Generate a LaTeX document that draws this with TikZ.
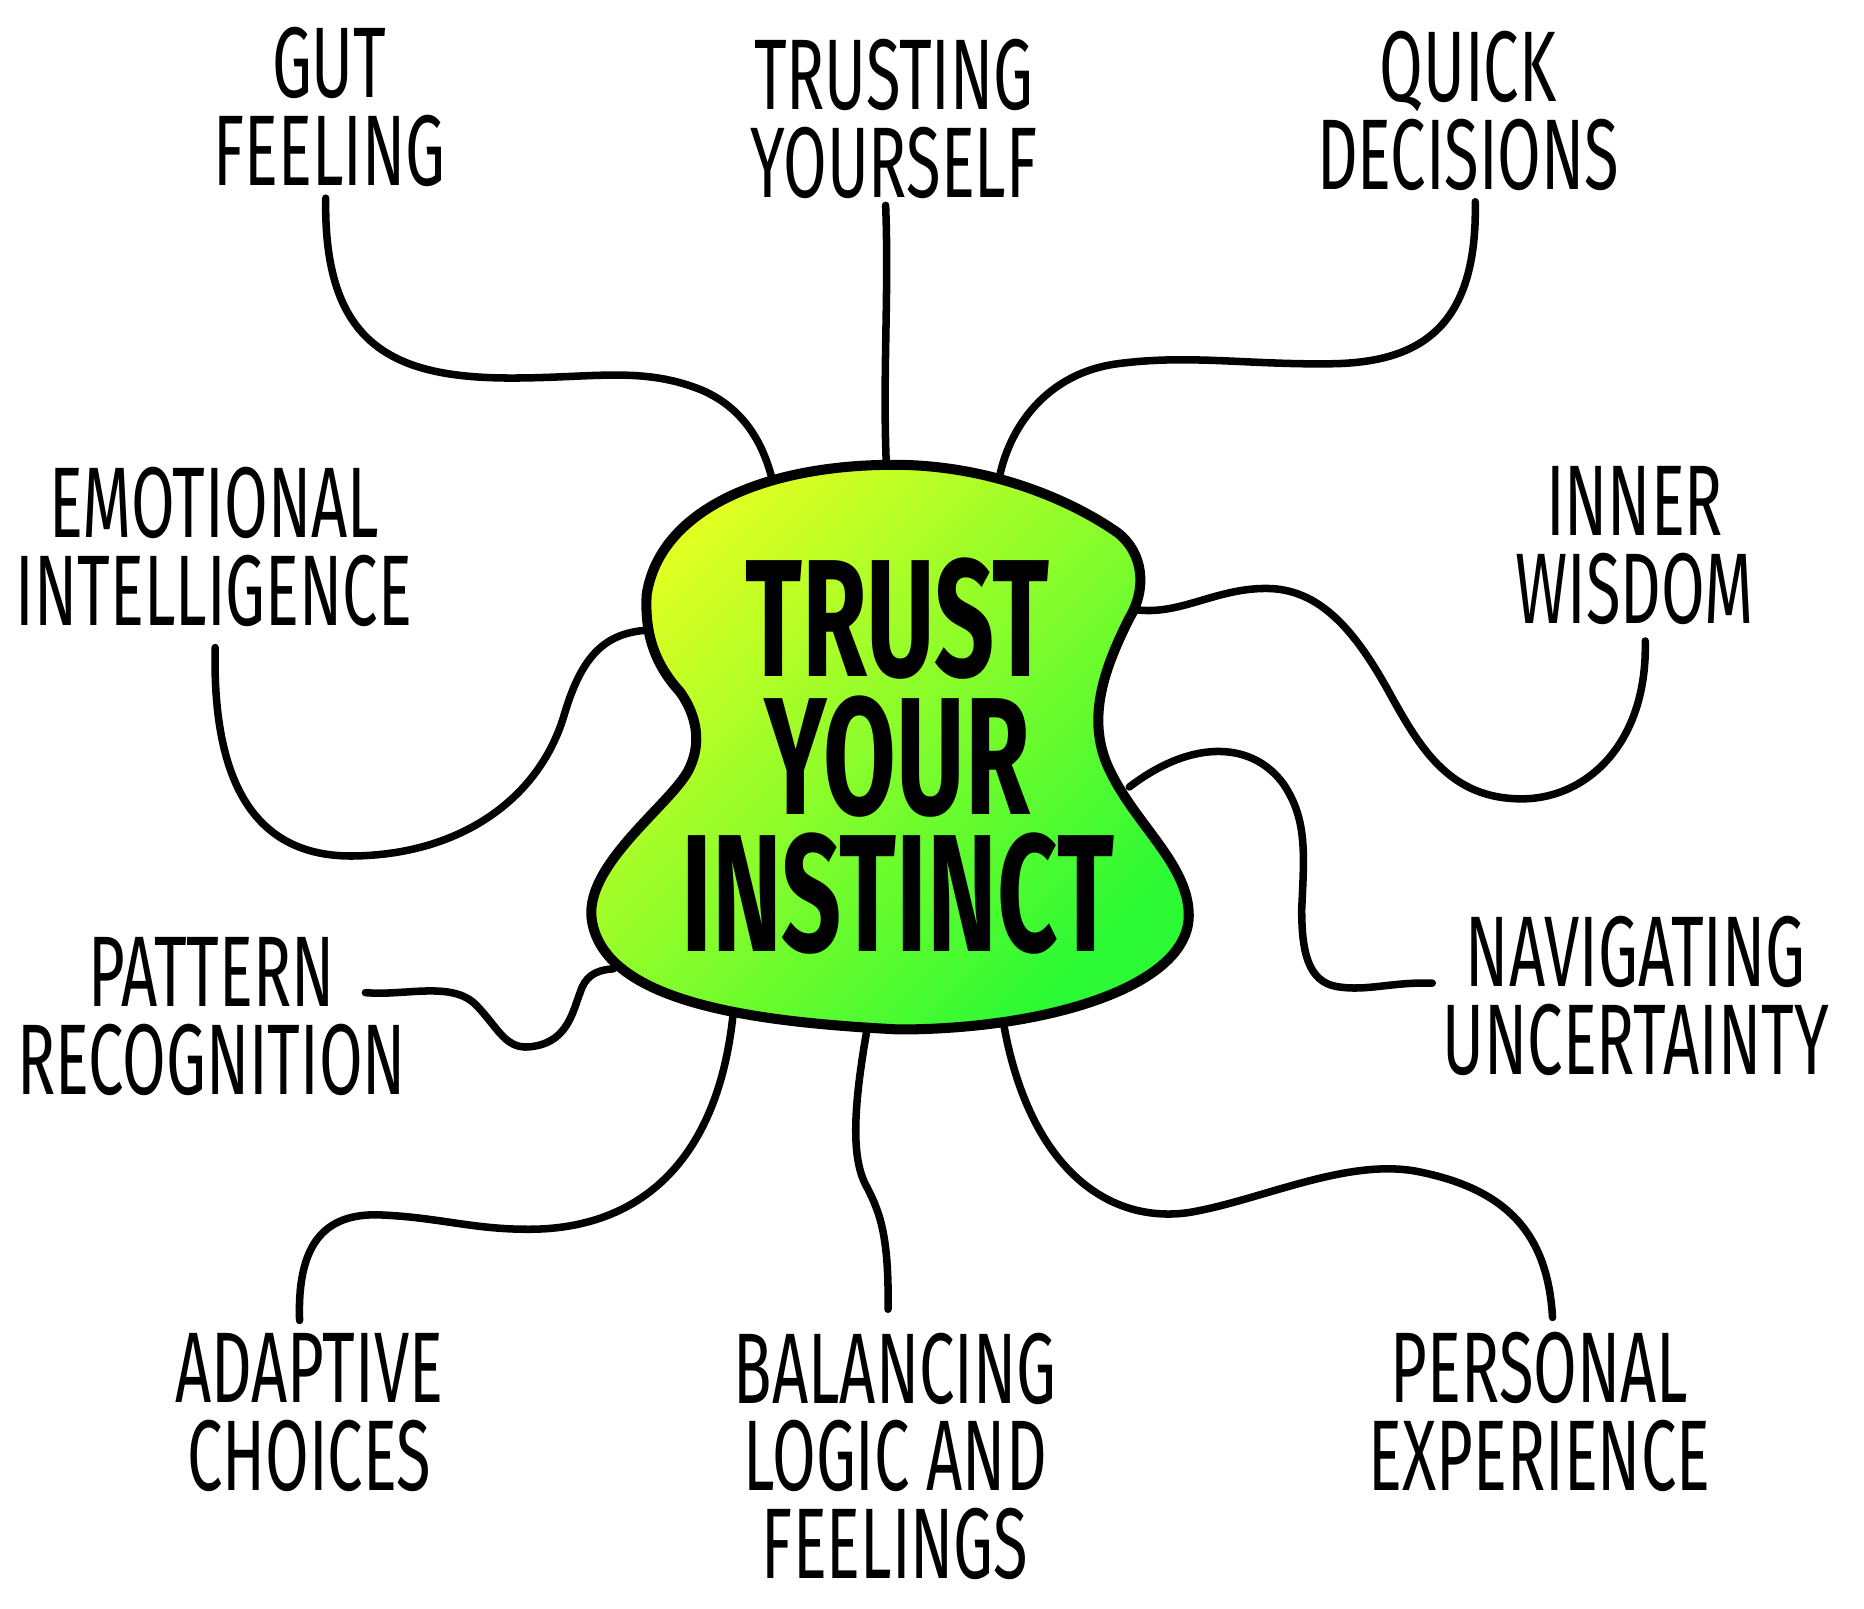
\documentclass[tikz,border=0pt]{standalone}
\usepackage{fontspec}
\newfontfamily\handfont[FakeStretch=0.63]{Fira Sans}
\definecolor{blobtop}{RGB}{226,255,34}
\definecolor{blobbot}{RGB}{44,250,52}
\tikzset{
  lbl/.style={font=\handfont\fontsize{24}{21}\selectfont, align=center, inner sep=0pt},
  core/.style={font=\handfont\bfseries\fontsize{40}{33}\selectfont, align=center, inner sep=0pt},
  conn/.style={line width=1.8pt, line cap=round},
}
\begin{document}
\begin{tikzpicture}[x=0.01cm,y=-0.01cm]
    \useasboundingbox[fill=white] (0,0) rectangle (1568,1352.7);
    % labels round the blob
    \node[lbl] (gut) at (277,90) {GUT\\FEELING};
    \node[lbl] (tru) at (752,100) {TRUSTING\\YOURSELF};
    \node[lbl] (qui) at (1235,93) {QUICK\\DECISIONS};
    \node[lbl] (emo) at (180,460) {EMOTIONAL\\INTELLIGENCE};
    \node[lbl] (inn) at (1375,459) {INNER\\WISDOM};
    \node[lbl] (pat) at (178,855) {PATTERN\\RECOGNITION};
    \node[lbl] (nav) at (1376,838) {NAVIGATING\\UNCERTAINTY};
    \node[lbl] (ada) at (260,1188) {ADAPTIVE\\CHOICES};
    \node[lbl] (bal) at (753,1225) {BALANCING\\LOGIC AND\\FEELINGS};
    \node[lbl] (per) at (1295,1188) {PERSONAL\\EXPERIENCE};
    % where the lines meet the blob
    \coordinate (b-gut) at (650,405);
    \coordinate (b-tru) at (746,400);
    \coordinate (b-qui) at (840,405);
    \coordinate (b-emo) at (546,530);
    \coordinate (b-inn) at (950,512);
    \coordinate (b-pat) at (516,815);
    \coordinate (b-nav) at (950,662);
    \coordinate (b-ada) at (617,850);
    \coordinate (b-bal) at (730,862);
    \coordinate (b-per) at (844,860);
    \draw[conn] (gut.south) ++(-3,9) .. controls (272,290) and (330,318) .. (430,318)
        .. controls (500,318) and (540,308) .. (590,328) .. controls (625,343) and (642,372) .. (b-gut);
    \draw[conn] (tru.south) ++(-7,5) .. controls (748,250) and (742,320) .. (b-tru);
    \draw[conn] (qui.south) ++(6,9) .. controls (1243,275) and (1195,305) .. (1120,306)
        .. controls (1050,307) and (1000,298) .. (940,306) .. controls (880,314) and (848,360) .. (b-qui);
    \draw[conn] (emo.south) ++(1,17) .. controls (178,680) and (230,722) .. (300,720)
        .. controls (390,718) and (455,670) .. (475,600) .. controls (490,550) and (510,532) .. (b-emo);
    \draw[conn] (inn.south) ++(9,13) .. controls (1386,625) and (1335,672) .. (1280,672)
        .. controls (1220,672) and (1195,630) .. (1170,585) .. controls (1140,530) and (1110,495) .. (1065,495)
        .. controls (1020,495) and (990,520) .. (b-inn);
    \draw[conn] (pat.east) ++(-35,-20) .. controls (340,838) and (380,825) .. (400,845)
        .. controls (420,865) and (425,885) .. (450,880) .. controls (478,875) and (482,850) .. (488,835)
        .. controls (492,822) and (500,816) .. (b-pat);
    \draw[conn] (nav.west) ++(-8,-11) .. controls (1170,826) and (1150,834) .. (1125,830)
        .. controls (1100,826) and (1095,800) .. (1095,765) .. controls (1097,720) and (1100,690) .. (1080,660)
        .. controls (1055,625) and (1005,620) .. (b-nav);
    \draw[conn] (ada.north) ++(-8,-10) .. controls (250,1050) and (270,1020) .. (320,1022)
        .. controls (370,1024) and (400,1035) .. (450,1034) .. controls (540,1032) and (605,975) .. (b-ada);
    \draw[conn] (bal.north) ++(-6,-19) .. controls (748,1040) and (740,1020) .. (730,1000)
        .. controls (715,975) and (718,930) .. (b-bal);
    \draw[conn] (per.north) ++(11,-12) .. controls (1302,1040) and (1270,1000) .. (1190,985)
        .. controls (1130,975) and (1060,1010) .. (1000,1020) .. controls (930,1030) and (865,980) .. (b-per);
    % the blob
    \shadedraw[top color=blobtop, bottom color=blobbot, shading angle=45, line width=2.4pt, line join=round]
      (544,500) .. controls (555,430) and (640,392) .. (748,391)
        .. controls (830,390) and (900,420) .. (940,448)
        .. controls (962,465) and (965,495) .. (950,520)
        .. controls (930,560) and (915,600) .. (930,640)
        .. controls (950,690) and (1000,725) .. (1000,770)
        .. controls (1000,830) and (880,866) .. (756,866)
        .. controls (640,860) and (510,845) .. (498,775)
        .. controls (490,730) and (560,680) .. (578,650)
        .. controls (592,625) and (585,600) .. (572,582)
        .. controls (552,560) and (542,535) .. (544,500) -- cycle;
    \node[core] (instinct) at (755,636) {TRUST\\YOUR\\INSTINCT};
\end{tikzpicture}
\end{document}
